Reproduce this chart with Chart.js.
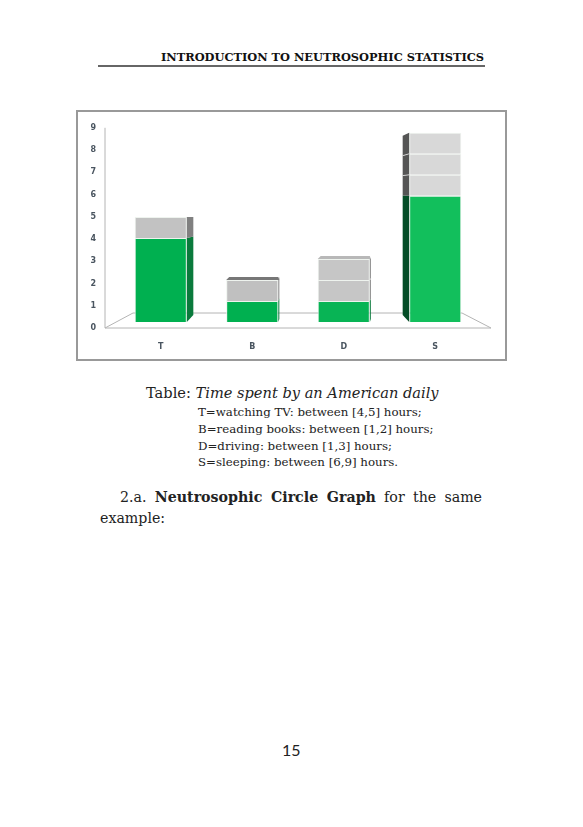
<!DOCTYPE html>
<html>
<head>
<meta charset="utf-8">
<title>Introduction to Neutrosophic Statistics</title>
<script src="https://cdn.jsdelivr.net/npm/chart.js@4"></script>
<style>
html, body { margin: 0; padding: 0; background: #fff; }
#page { position: relative; width: 583px; height: 827px; overflow: hidden; font-family: "DejaVu Serif", serif; color: #222; }
#page div { position: absolute; white-space: nowrap; }
#header { left: 161px; top: 50px; font-size: 11.4px; font-weight: bold; color: #111; }
#rule { left: 98px; top: 65px; width: 387px; height: 1.5px; background: #666; }
#frame { left: 76px; top: 110px; width: 427px; height: 247px; border: 2px solid #999; }
#chart { position: absolute; left: 0; top: 0; filter: blur(0.5px); }
#caption { left: 146px; top: 384px; font-size: 14.6px; }
.line { left: 198px; font-size: 11.8px; }
#para { left: 120px; top: 489px; width: 362px; font-size: 14.2px; white-space: normal !important; text-align: justify; text-align-last: justify; }
#para2 { left: 100px; top: 510px; font-size: 14.2px; }
#pageno { left: 282px; top: 740px; font-family: "Lato", sans-serif; font-size: 16px; }
</style>
</head>
<body>
<div id="page">
  <div id="header">INTRODUCTION TO NEUTROSOPHIC STATISTICS</div>
  <div id="rule"></div>
  <div id="frame"><canvas id="chart" width="427" height="247"></canvas></div>
  <div id="caption">Table: <i>Time spent by an American daily</i></div>
  <div class="line" style="top:405px">T=watching TV: between [4,5] hours;</div>
  <div class="line" style="top:422px">B=reading books: between [1,2] hours;</div>
  <div class="line" style="top:439px">D=driving: between [1,3] hours;</div>
  <div class="line" style="top:455px">S=sleeping: between [6,9] hours.</div>
  <div id="para">2.a. <b>Neutrosophic Circle Graph</b> for the same</div>
  <div id="para2">example:</div>
  <div id="pageno">15</div>
</div>
<script>
// data
const categories = ['T', 'B', 'D', 'S'];
const lowerValues = [4, 1, 1, 6];
const rangeStep1 = [1, 1, 1, 1];
const rangeStep2 = [null, null, 1, 1];
const rangeStep3 = [null, null, null, 1];
const yTicks = [0, 1, 2, 3, 4, 5, 6, 7, 8, 9];

// colours per bar
const greens = ['#00b050', '#00b050', '#08b455', '#12bf5c'];
const greys = ['#c2c2c2', '#c0c0c0', '#c6c6c6', '#d8d8d8'];
const greenSides = ['#0a7a3c', '#0a7a3c', '#0a7a3c', '#044d27'];
const greySides = ['#808080', '#808080', '#808080', '#555555'];

function barDataset(label, values, colors) {
    return {
        label: label,
        data: values,
        yAxisID: 'y',
        backgroundColor: colors,
        borderColor: '#eef3ee',
        borderWidth: 1,
        barPercentage: 0.57,
        categoryPercentage: 1
    };
}

// fake 3D: floor, y axis line and the side faces of the bars
const depth3d = {
    id: 'depth3d',
    beforeDatasetsDraw(chart) {
        const ctx = chart.ctx;
        const area = chart.chartArea;
        const floorY = chart.scales.y2.getPixelForValue(0);
        const left = area.left - 10;
        const right = area.right + 10;
        ctx.save();
        ctx.strokeStyle = '#b4b4b4';
        ctx.lineWidth = 1;
        ctx.beginPath();
        ctx.moveTo(left, area.top);
        ctx.lineTo(left, floorY);
        ctx.lineTo(right, floorY);
        ctx.lineTo(right - 29, floorY - 15);
        ctx.lineTo(left + 28, floorY - 15);
        ctx.lineTo(left, floorY);
        ctx.stroke();
        ctx.restore();
    },
    afterDatasetsDraw(chart) {
        const ctx = chart.ctx;
        const sideDepth = [6.5, 1, 1, -6.5];
        const bottomRise = [7, 3, 3, 7];
        const topDrop = [0, -3, -1, 3];
        ctx.save();
        chart.data.datasets.forEach((ds, d) => {
            chart.getDatasetMeta(d).data.forEach((bar, i) => {
                if (ds.data[i] == null) return;
                const edge = sideDepth[i] > 0 ? bar.x + bar.width / 2 : bar.x - bar.width / 2;
                const dx = sideDepth[i];
                // how far back a point at pixel py goes
                const base = chart.getDatasetMeta(0).data[i].base;
                let lastTop = bar.y;
                for (let k = d; k < chart.data.datasets.length; k++) {
                    const other = chart.data.datasets[k];
                    if (other.data[i] != null) lastTop = chart.getDatasetMeta(k).data[i].y;
                }
                const shift = py => {
                    const t = (py - lastTop) / (base - lastTop);
                    return topDrop[i] + (-bottomRise[i] - topDrop[i]) * t;
                };
                ctx.fillStyle = d === 0 ? greenSides[i] : greySides[i];
                ctx.strokeStyle = '#e8e8e8';
                ctx.lineWidth = 0.8;
                ctx.beginPath();
                ctx.moveTo(edge, bar.y);
                ctx.lineTo(edge + dx, bar.y + shift(bar.y));
                ctx.lineTo(edge + dx, bar.base + shift(bar.base));
                ctx.lineTo(edge, bar.base);
                ctx.closePath();
                ctx.fill();
                if (d > 1) {
                    ctx.beginPath();
                    ctx.moveTo(edge, bar.base);
                    ctx.lineTo(edge + dx, bar.base + shift(bar.base));
                    ctx.stroke();
                }
            });
        });
        // top faces of the two short bars
        [[1, 1, '#777777'], [2, 3, '#b8b8b8']].forEach(([i, d, color]) => {
            const bar = chart.getDatasetMeta(i === 1 ? 1 : 2).data[i];
            const l = bar.x - bar.width / 2;
            const r = bar.x + bar.width / 2;
            ctx.fillStyle = color;
            ctx.beginPath();
            ctx.moveTo(l, bar.y);
            ctx.lineTo(l + 3, bar.y - 3);
            ctx.lineTo(r, bar.y - 3);
            ctx.lineTo(r + 1, bar.y);
            ctx.closePath();
            ctx.fill();
        });
        ctx.restore();
    }
};

new Chart(document.getElementById('chart'), {
    type: 'bar',
    data: {
        labels: categories,
        datasets: [
            barDataset('lower', lowerValues, greens),
            barDataset('range 1', rangeStep1, greys),
            barDataset('range 2', rangeStep2, greys),
            barDataset('range 3', rangeStep3, greys)
        ]
    },
    plugins: [depth3d],
    options: {
        responsive: false,
        animation: false,
        layout: { padding: { top: 5, right: 24, left: 0, bottom: 0 } },
        plugins: { legend: { display: false }, title: { display: false }, tooltip: { enabled: false } },
        scales: {
            x: {
                stacked: true,
                grid: { display: false },
                border: { display: false },
                afterFit: s => { s.height = 31; },
                ticks: { padding: 6, color: '#4a5560', font: { family: 'DejaVu Sans', size: 8, weight: 'bold' } }
            },
            // bars stand a little above the tick labels' zero because of the perspective
            y: {
                stacked: true,
                display: false,
                min: -0.283,
                max: 9.236
            },
            y2: {
                position: 'left',
                min: 0,
                max: 9,
                grid: { display: false },
                border: { display: false },
                afterBuildTicks: s => { s.ticks = yTicks.map(v => ({ value: v })); },
                afterFit: s => { s.width = 37; },
                ticks: { padding: 11, color: '#4a5560', font: { family: 'DejaVu Sans', size: 8, weight: 'bold' } }
            }
        }
    }
});
</script>
</body>
</html>
